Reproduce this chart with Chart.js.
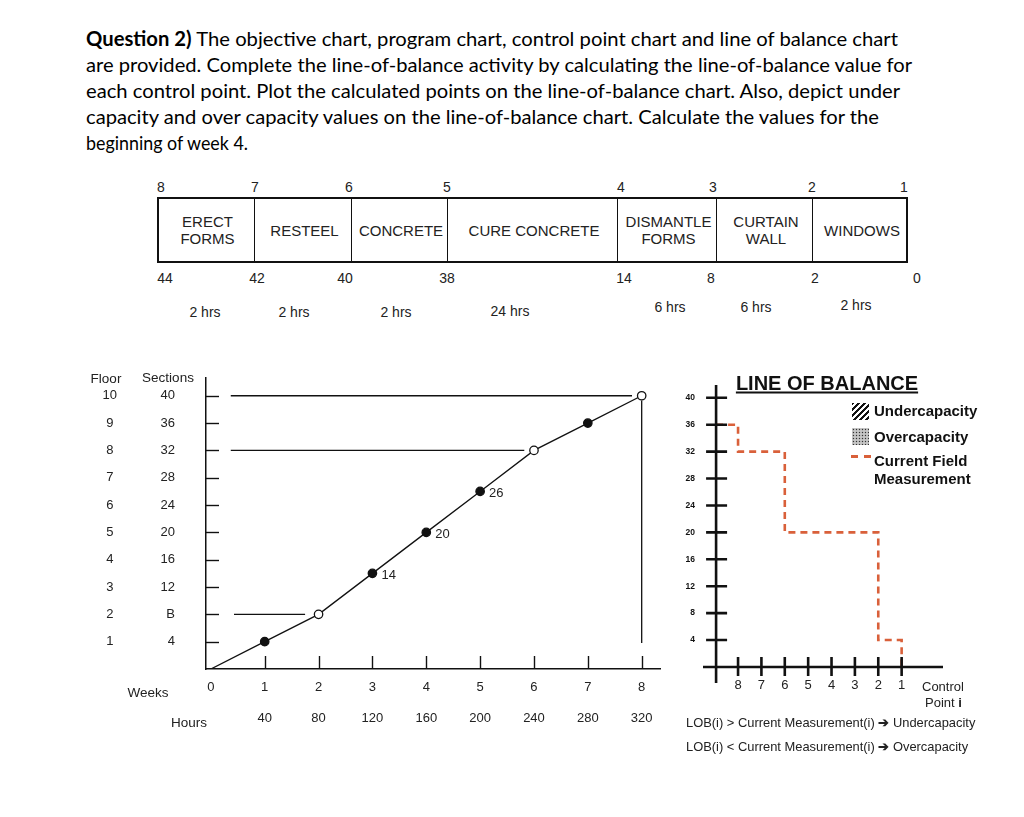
<!DOCTYPE html>
<html>
<head>
<meta charset="utf-8">
<script src="https://cdn.jsdelivr.net/npm/chart.js@4.4.0/dist/chart.umd.min.js"></script>
<style>
  body { margin: 0; background: #fff; }
  #page { position: relative; width: 1024px; height: 817px; overflow: hidden;
          font-family: "Liberation Sans", Arial, sans-serif; color: #222; }
  .t { position: absolute; white-space: nowrap; transform: translate(-50%, -50%); }
  .l { position: absolute; white-space: nowrap; transform: translateY(-50%); }
  #question { position: absolute; left: 86px; top: 25px; color: #000;
              font-family: Lato, "Open Sans", sans-serif; font-size: 20px; line-height: 26px; }
  #question div { white-space: nowrap; transform-origin: 0 50%; width: max-content; }
  #prog { position: absolute; left: 157px; top: 197px; width: 751px; height: 66px;
          border: 2.5px solid #111; box-sizing: border-box; }
  .seg { position: absolute; top: 0; bottom: 0; display: flex; align-items: center;
         justify-content: center; text-align: center; font-size: 15px; line-height: 17px; }
  .div { position: absolute; top: 0; bottom: 0; width: 0; border-left: 1.3px solid #111; }
  canvas { position: absolute; }
  #objChart { left: 90px; top: 370px; }
  #lobChart { left: 680px; top: 370px; }
  .lg { font-weight: bold; font-size: 15px; color: #111; }
</style>
</head>
<body>
<div id="page">
  <div id="question">
    <div><b>Question 2)</b> The objective chart, program chart, control point chart and line of balance chart</div>
    <div>are provided. Complete the line-of-balance activity by calculating the line-of-balance value for</div>
    <div>each control point. Plot the calculated points on the line-of-balance chart. Also, depict under</div>
    <div>capacity and over capacity values on the line-of-balance chart. Calculate the values for the</div>
    <div>beginning of week 4.</div>
  </div>

  <div id="prog"></div>
  <div id="progLabels"></div>

  <canvas id="objChart" width="580" height="371"></canvas>
  <div class="t" style="left:106px;top:378px;font-size:13.5px">Floor</div>
  <div class="t" style="left:168px;top:377px;font-size:13.5px">Sections</div>
  <div class="t" style="left:148px;top:692px;font-size:13.5px">Weeks</div>
  <div class="t" style="left:189px;top:722px;font-size:13.5px">Hours</div>

  <canvas id="lobChart" width="340" height="330"></canvas>
  <div class="t" style="left:827px;top:383px;font-size:20px;font-weight:bold;color:#111;text-decoration:underline;text-decoration-thickness:2px;text-underline-offset:2px">LINE OF BALANCE</div>
  <div style="position:absolute;left:852px;top:403px;width:17px;height:17px;background:repeating-linear-gradient(135deg,#111 0 2px,#fff 2px 4.2px)"></div>
  <div class="l lg" style="left:874px;top:410px">Undercapacity</div>
  <div style="position:absolute;left:852px;top:428px;width:17px;height:17px;background:radial-gradient(circle,#333 0.75px,transparent 1.1px) 0 0/3px 3px,radial-gradient(circle,#666 0.7px,transparent 1.05px) 1.5px 1.5px/3px 3px,#f2f2f2"></div>
  <div class="l lg" style="left:874px;top:436px">Overcapacity</div>
  <div style="position:absolute;left:851px;top:455px;width:7px;height:2.5px;background:#d9603a"></div>
  <div style="position:absolute;left:864px;top:455px;width:7px;height:2.5px;background:#d9603a"></div>
  <div class="l lg" style="left:874px;top:460px">Current Field</div>
  <div class="l lg" style="left:874px;top:478px">Measurement</div>
  <div class="l" style="left:922px;top:686px;font-size:13px">Control</div>
  <div class="l" style="left:925px;top:702px;font-size:13px">Point <b>i</b></div>
  <div class="l" style="left:686px;top:722px;font-size:12.9px">LOB(i) &gt; Current Measurement(i) <b>&#x2794;</b> Undercapacity</div>
  <div class="l" style="left:686px;top:746px;font-size:12.9px">LOB(i) &lt; Current Measurement(i) <b>&#x2794;</b> Overcapacity</div>
</div>

<script>
/* ---- program chart data ---- */
var activities    = ['ERECT<br>FORMS', 'RESTEEL', 'CONCRETE', 'CURE CONCRETE', 'DISMANTLE<br>FORMS', 'CURTAIN<br>WALL', 'WINDOWS'];
var activityHours = [2, 2, 2, 24, 6, 6, 2];
var controlPoints = [8, 7, 6, 5, 4, 3, 2, 1];
var leadHours     = [44, 42, 40, 38, 14, 8, 2, 0];

/* ---- objective chart data ---- */
var weeks        = [0, 1, 2, 3, 4, 5, 6, 7, 8];
var sectionsDone = [0, 4, 8, 14, 20, 26, 32, 36, 40];
var openWeeks    = [2, 6, 8];
var labelWeeks   = [3, 4, 5];
var sectionTicks = [4, 8, 12, 16, 20, 24, 28, 32, 36, 40];
var sectionText  = ['4', 'B', '12', '16', '20', '24', '28', '32', '36', '40'];
var floorTicks   = [1, 2, 3, 4, 5, 6, 7, 8, 9, 10];
var hourTicks    = [40, 80, 120, 160, 200, 240, 280, 320];
var guideLevel   = [40, 32, 8];
var guideFrom    = [0.37, 0.37, 0.43];
var guideTo      = [7.82, 5.82, 1.75];
var dropWeek     = 8;
var dropRange    = [39.3, 3.8];

/* ---- line of balance data ---- */
var lobPoints  = [8, 7, 6, 5, 4, 3, 2, 1];
var lobCurrent = [36, 32, 32, 20, 20, 20, 20, 4];
var lobYTicks  = [4, 8, 12, 16, 20, 24, 28, 32, 36, 40];

var INK = '#111';
var TXT = '#222';
var ORANGE = '#d9603a';
var SANS = '"Liberation Sans", Arial, sans-serif';

/* fit the question lines to the width they take in the scan */
(function () {
  var target = [812, 826, 814, 793, 162];
  var rows = document.querySelectorAll('#question div');
  rows.forEach(function (r, i) {
    var w = r.getBoundingClientRect().width;
    r.style.transform = 'scaleX(' + (target[i] / w) + ')';
  });
})();

/* ---- program chart (plain boxes) ---- */
(function () {
  var edges  = [157, 254, 351, 447, 617, 716, 812, 908];
  var topX   = [161, 255, 349, 447, 621, 713, 812, 904];
  var botX   = [165, 257, 345, 447, 624, 711, 815, 917];
  var durX   = [205, 294, 396, 510, 670, 756, 856];
  var durY   = [312, 312, 312, 311, 307, 307, 305];
  var box = document.getElementById('prog');
  var out = document.getElementById('progLabels');
  var html = '';
  activities.forEach(function (a, i) {
    var l = edges[i] - edges[0], w = edges[i + 1] - edges[i];
    html += '<div class="seg" style="left:' + l + 'px;width:' + w + 'px">' + a + '</div>';
    if (i > 0) html += '<div class="div" style="left:' + (l - 2) + 'px"></div>';
  });
  box.innerHTML = html;
  var lab = '';
  controlPoints.forEach(function (c, i) {
    lab += '<div class="t" style="left:' + topX[i] + 'px;top:187px;font-size:14px">' + c + '</div>';
    lab += '<div class="t" style="left:' + botX[i] + 'px;top:278px;font-size:14px">' + leadHours[i] + '</div>';
  });
  activityHours.forEach(function (h, i) {
    lab += '<div class="t" style="left:' + durX[i] + 'px;top:' + durY[i] + 'px;font-size:14px">' + h + ' hrs</div>';
  });
  out.innerHTML = lab;
})();

/* vertical axes: tick padding would also pad the top/bottom of the plot, undo that */
function noVertPad(s) { s.paddingTop = 0; s.paddingBottom = 0; }

/* ---- objective chart ---- */
function initObjectiveChart() {
  var ctx = document.getElementById('objChart');
  var Y_MAX = 42.6;

  var datasets = [{
    data: weeks.map(function (w, i) { return { x: w, y: sectionsDone[i] }; }),
    showLine: true,
    borderColor: INK,
    borderWidth: 1.3,
    pointRadius: function (c) { return c.dataIndex === 0 ? 0 : 4.2; },
    pointBorderWidth: 1.3,
    pointBorderColor: INK,
    pointBackgroundColor: function (c) {
      return openWeeks.indexOf(weeks[c.dataIndex]) >= 0 ? '#fff' : INK;
    },
  }];
  guideLevel.forEach(function (lv, i) {
    datasets.push({
      data: [{ x: guideFrom[i], y: lv }, { x: guideTo[i], y: lv }],
      showLine: true, borderColor: INK, borderWidth: 1.3, pointRadius: 0,
    });
  });
  datasets.push({
    data: [{ x: dropWeek, y: dropRange[0] }, { x: dropWeek, y: dropRange[1] }],
    showLine: true, borderColor: INK, borderWidth: 1.3, pointRadius: 0,
  });

  var insideTicks = {
    id: 'insideTicks',
    afterDraw: function (chart) {
      var c = chart.ctx, a = chart.chartArea, x = chart.scales.x, y = chart.scales.y;
      c.save();
      c.strokeStyle = INK;
      c.lineWidth = 1.4;
      sectionTicks.forEach(function (v) {
        var py = Math.round(y.getPixelForValue(v)) + 0.5;
        c.beginPath(); c.moveTo(a.left, py); c.lineTo(a.left + 13, py); c.stroke();
      });
      weeks.slice(1).forEach(function (w) {
        var px = Math.round(x.getPixelForValue(w)) + 0.5;
        c.beginPath(); c.moveTo(px, a.bottom); c.lineTo(px, a.bottom - 13); c.stroke();
      });
      c.fillStyle = TXT;
      c.font = '13px ' + SANS;
      c.textBaseline = 'middle';
      c.textAlign = 'left';
      labelWeeks.forEach(function (w) {
        var v = sectionsDone[weeks.indexOf(w)];
        c.fillText(String(v), x.getPixelForValue(w) + 9, y.getPixelForValue(v) + 2);
      });
      c.restore();
    }
  };

  var tickFont = { family: SANS, size: 13 };

  new Chart(ctx, {
    type: 'scatter',
    data: { datasets: datasets },
    options: {
      responsive: false,
      animation: false,
      layout: { padding: { top: 8, right: 10, left: 0, bottom: 0 } },
      plugins: { legend: { display: false }, tooltip: { enabled: false } },
      scales: {
        x: {
          type: 'linear', position: 'bottom', weight: 0, min: -0.09, max: 8.34,
          grid: { display: false, drawTicks: false },
          border: { display: true, color: INK, width: 1.5 },
          afterBuildTicks: function (s) { s.ticks = weeks.map(function (v) { return { value: v }; }); },
          ticks: { padding: 11, font: tickFont, color: TXT, autoSkip: false, maxRotation: 0 },
          afterFit: function (s) { s.height = 30; },
        },
        xh: {
          type: 'linear', position: 'bottom', weight: 1, min: -0.09, max: 8.34,
          grid: { display: false, drawTicks: false },
          border: { display: false },
          afterBuildTicks: function (s) { s.ticks = hourTicks.map(function (h) { return { value: h / 40 }; }); },
          ticks: {
            padding: 12, font: tickFont, color: TXT, autoSkip: false, maxRotation: 0,
            callback: function (v) { return String(Math.round(v * 40)); },
          },
          afterFit: function (s) { s.height = 42; },
        },
        y: {
          type: 'linear', position: 'left', weight: 0, min: 0, max: Y_MAX,
          grid: { display: false, drawTicks: false },
          border: { display: true, color: INK, width: 1.5 },
          afterBuildTicks: function (s) { s.ticks = sectionTicks.map(function (v) { return { value: v }; }); },
          ticks: {
            padding: 31, font: tickFont, color: TXT, autoSkip: false,
            callback: function (v) { return sectionText[sectionTicks.indexOf(v)]; },
          },
          afterFit: function (s) { s.width = 50; noVertPad(s); },
        },
        yf: {
          type: 'linear', position: 'left', weight: 1, min: 0, max: Y_MAX / 4,
          grid: { display: false, drawTicks: false },
          border: { display: false },
          afterBuildTicks: function (s) { s.ticks = floorTicks.map(function (v) { return { value: v }; }); },
          ticks: { padding: 39, font: tickFont, color: TXT, autoSkip: false, crossAlign: 'center' },
          afterFit: function (s) { s.width = 66; noVertPad(s); },
        },
      },
    },
    plugins: [insideTicks],
  });
}

/* ---- line of balance chart ---- */
function initLobChart() {
  var ctx = document.getElementById('lobChart');
  var AXIS_AT = 8.94;     // where the vertical axis crosses, in control-point units
  var X_MIN = -0.77, X_MAX = 9.5, Y_MIN = -1.34, Y_MAX = 41.9, Y_LOW = -2.38;

  var stepData = [{ x: AXIS_AT, y: lobCurrent[0] }];
  lobPoints.forEach(function (p, i) { stepData.push({ x: p, y: lobCurrent[i] }); });
  stepData.push({ x: lobPoints[lobPoints.length - 1], y: 0 });

  var crossAxes = {
    id: 'crossAxes',
    afterDraw: function (chart) {
      var c = chart.ctx, x = chart.scales.x, y = chart.scales.y;
      var ax = x.getPixelForValue(AXIS_AT), ay = y.getPixelForValue(0);
      c.save();
      c.strokeStyle = INK;
      c.lineWidth = 2.6;
      c.beginPath();
      c.moveTo(ax, y.getPixelForValue(Y_LOW)); c.lineTo(ax, y.getPixelForValue(Y_MAX));
      c.moveTo(x.getPixelForValue(X_MAX), ay); c.lineTo(x.getPixelForValue(X_MIN), ay);
      lobYTicks.forEach(function (v) {
        var py = y.getPixelForValue(v);
        c.moveTo(ax - 10, py); c.lineTo(ax + 11, py);
      });
      lobPoints.forEach(function (p) {
        var px = x.getPixelForValue(p);
        c.moveTo(px, ay - 10); c.lineTo(px, ay + 9);
      });
      c.stroke();
      c.restore();
    }
  };

  new Chart(ctx, {
    type: 'scatter',
    data: {
      datasets: [{
        data: stepData,
        showLine: true,
        stepped: 'after',
        borderColor: ORANGE,
        borderWidth: 2.6,
        borderDash: [7, 5],
        pointRadius: 0,
      }],
    },
    options: {
      responsive: false,
      animation: false,
      layout: { padding: { top: 15, right: 77, left: 0, bottom: 0 } },
      plugins: { legend: { display: false }, tooltip: { enabled: false } },
      scales: {
        x: {
          type: 'linear', reverse: true, min: X_MIN, max: X_MAX,
          grid: { display: false, drawTicks: false },
          border: { display: false },
          afterBuildTicks: function (s) { s.ticks = lobPoints.map(function (v) { return { value: v }; }); },
          ticks: { padding: 2, font: { family: SANS, size: 13 }, color: TXT, autoSkip: false, maxRotation: 0 },
          afterFit: function (s) { s.height = 24; },
        },
        y: {
          type: 'linear', min: Y_MIN, max: Y_MAX,
          grid: { display: false, drawTicks: false },
          border: { display: false },
          afterBuildTicks: function (s) { s.ticks = lobYTicks.map(function (v) { return { value: v }; }); },
          ticks: { padding: 8, font: { family: SANS, size: 8.5, weight: 'bold' }, color: INK, autoSkip: false },
          afterFit: function (s) { s.width = 23; noVertPad(s); },
        },
      },
    },
    plugins: [crossAxes],
  });
}

initObjectiveChart();
initLobChart();
</script>
</body>
</html>
